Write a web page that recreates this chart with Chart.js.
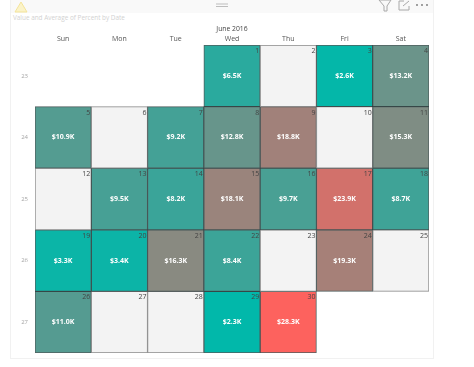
<!DOCTYPE html>
<html>
<head>
<meta charset="utf-8">
<script src="https://cdn.jsdelivr.net/npm/chart.js@4"></script>
<style>
  html, body { margin: 0; padding: 0; background: #fff; }
  #wrap { position: relative; width: 474px; height: 367px; overflow: hidden; font-family: 'Open Sans', sans-serif; }
  #card { position: absolute; left: 10px; top: 0; width: 422px; height: 358px; border: 1px solid #f1f1f1; border-top: 0; }
  #bar { position: absolute; left: 11px; top: 0; width: 422px; height: 13px; background: #f9f9f9; }
  #title { position: absolute; left: 13px; top: 12px; font-size: 6.4px; line-height: 12px; color: #d2d2d2; }
  #icons { position: absolute; left: 0; top: 0; }
  canvas { position: absolute; left: 0; top: 0; }
</style>
</head>
<body>
<div id="wrap">
  <div id="card"></div>
  <div id="bar"></div>
  <div id="title">Value and Average of Percent by Date</div>
  <canvas id="calendarChart" width="474" height="367"></canvas>
  <svg id="icons" width="474" height="20">
    <path d="M21 2 L27 12 L15 12 Z" fill="#fbf3c8" stroke="#f3e39a" stroke-width="1"/>
    <path d="M216 4 H228 M216 6.5 H228" stroke="#bdbdbd" stroke-width="1"/>
    <path d="M379 0 L391 0 L387 6 L387 11 L384 11 L384 6 Z" fill="none" stroke="#a8a8a8" stroke-width="1"/>
    <path d="M404 1 H399 V10 H409 V6 M403 6 L409 1" fill="none" stroke="#a8a8a8" stroke-width="1"/>
    <circle cx="417" cy="5" r="0.9" fill="#777"/><circle cx="422" cy="5" r="0.9" fill="#777"/><circle cx="427" cy="5" r="0.9" fill="#777"/>
  </svg>
</div>
<script>
const monthLabel = 'June 2016'
const dayNames = ['Sun', 'Mon', 'Tue', 'Wed', 'Thu', 'Fri', 'Sat']
const weekNumbers = ['23', '24', '25', '26', '27']

// day of month per week row, null = outside the month
const week23Dates = [null, null, null, 1, 2, 3, 4]
const week24Dates = [5, 6, 7, 8, 9, 10, 11]
const week25Dates = [12, 13, 14, 15, 16, 17, 18]
const week26Dates = [19, 20, 21, 22, 23, 24, 25]
const week27Dates = [26, 27, 28, 29, 30, null, null]

// values in $K, null = no data for that day
const week23Values = [null, null, null, 6.5, null, 2.6, 13.2]
const week24Values = [10.9, null, 9.2, 12.8, 18.8, null, 15.3]
const week25Values = [null, 9.5, 8.2, 18.1, 9.7, 23.9, 8.7]
const week26Values = [3.3, 3.4, 16.3, 8.4, null, 19.3, null]
const week27Values = [11.0, null, null, 2.3, 28.3, null, null]

const allDates = [week23Dates, week24Dates, week25Dates, week26Dates, week27Dates]
const allValues = [week23Values, week24Values, week25Values, week26Values, week27Values]

const lowColor = [1, 184, 170]
const highColor = [253, 98, 94]

function cellColor(value) {
  if (value === null) return '#f3f3f3'
  const t = (value - 2.3) / (28.3 - 2.3)
  const c = lowColor.map((low, i) => Math.round(low + (highColor[i] - low) * t))
  return `rgb(${c[0]}, ${c[1]}, ${c[2]})`
}

// Value and day number text on top of each cell
const cellText = {
  id: 'cellText',
  afterDatasetsDraw(chart) {
    const { ctx } = chart
    ctx.save()
    chart.data.datasets.forEach((dataset, row) => {
      chart.getDatasetMeta(row).data.forEach((bar, col) => {
        const date = allDates[row][col]
        if (date === null) return
        const value = allValues[row][col]
        const box = bar.getProps(['x', 'y', 'base', 'width'], true)
        const right = box.x + box.width / 2
        ctx.textBaseline = 'middle'
        ctx.textAlign = 'right'
        ctx.fillStyle = '#444'
        ctx.font = '7px "Open Sans"'
        ctx.fillText(date, right - 1, Math.min(box.y, box.base) + 6)
        if (value !== null) {
          ctx.textAlign = 'center'
          ctx.fillStyle = '#fff'
          ctx.font = 'bold 7px "Open Sans"'
          ctx.fillText('$' + value.toFixed(1) + 'K', box.x, (box.y + box.base) / 2)
        }
      })
    })
    ctx.restore()
  }
}

new Chart(document.getElementById('calendarChart'), {
  type: 'bar',
  data: {
    labels: dayNames,
    datasets: weekNumbers.map((week, row) => ({
      label: week,
      grouped: false,
      data: allDates[row].map((date) => (date === null ? null : [row, row + 1])),
      backgroundColor: allValues[row].map(cellColor),
      borderColor: allValues[row].map((v) => (v === null ? '#8a8a8a' : 'rgba(20, 40, 40, 0.75)')),
      borderWidth: 1,
      borderSkipped: false,
      barPercentage: 1,
      categoryPercentage: 1
    }))
  },
  plugins: [cellText],
  options: {
    responsive: false,
    animation: false,
    layout: { padding: { top: 0, left: 0, right: 45, bottom: 14 } },
    plugins: {
      legend: { display: false },
      tooltip: { enabled: false }
    },
    scales: {
      x: {
        position: 'top',
        title: {
          display: true,
          text: monthLabel,
          color: '#444',
          padding: { top: 25, bottom: 0 },
          font: { family: 'Open Sans', size: 6.8 }
        },
        grid: { display: false, drawTicks: false },
        border: { display: false },
        ticks: { color: '#555', padding: 2, font: { family: 'Open Sans', size: 7 } },
        afterFit(scale) {
          scale.height = 45
        }
      },
      y: {
        min: 0,
        max: 5,
        reverse: true,
        grid: { display: false, drawTicks: false },
        border: { display: false },
        afterBuildTicks(scale) {
          scale.ticks = weekNumbers.map((week, i) => ({ value: i + 0.5 }))
        },
        ticks: {
          color: '#a6a6a6',
          padding: 7,
          font: { family: 'Open Sans', size: 6 },
          callback: (value) => weekNumbers[Math.floor(value)]
        },
        afterFit(scale) {
          scale.width = 35
        }
      }
    }
  }
})
</script>
</body>
</html>
